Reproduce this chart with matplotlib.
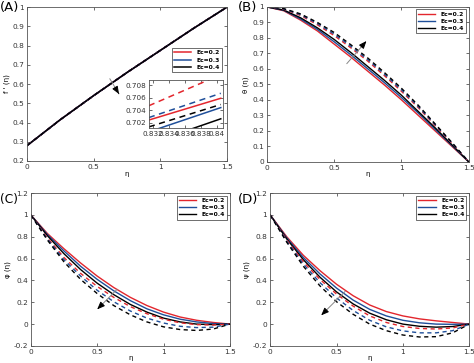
import matplotlib
matplotlib.use('Agg')
import matplotlib.pyplot as plt
import numpy as np

# ---- data ----
labels = ['Ec=0.2', 'Ec=0.3', 'Ec=0.4']
colors = ['#e3262d', '#1f4f9a', '#000000']

eta7 = [0, 0.25, 0.5, 0.75, 1.0, 1.25, 1.5]
fp_main = [0.28, 0.415, 0.54, 0.66, 0.775, 0.89, 1.0]

# inset of (A): two end points per line
inset_x = [0.8315, 0.8405]
inset_solid = [[0.7024, 0.7059], [0.7005, 0.7044], [0.6986, 0.7026]]
inset_dash = [[0.7047, 0.7097], [0.7028, 0.7067], [0.7013, 0.7049]]

eta = [0, 0.125, 0.25, 0.375, 0.5, 0.625, 0.75, 0.875, 1.0, 1.125, 1.25, 1.375, 1.5]

theta_solid = [
    [1, 0.975, 0.915, 0.845, 0.76, 0.675, 0.585, 0.495, 0.40, 0.30, 0.20, 0.10, 0],
    [1, 0.978, 0.922, 0.855, 0.775, 0.69, 0.60, 0.51, 0.415, 0.315, 0.21, 0.105, 0],
    [1, 0.980, 0.930, 0.865, 0.79, 0.705, 0.615, 0.525, 0.43, 0.325, 0.22, 0.11, 0],
]
theta_dash = [
    [1, 0.985, 0.945, 0.885, 0.815, 0.735, 0.65, 0.555, 0.455, 0.35, 0.235, 0.12, 0],
    [1, 0.987, 0.950, 0.893, 0.825, 0.745, 0.66, 0.565, 0.465, 0.357, 0.24, 0.122, 0],
    [1, 0.989, 0.955, 0.900, 0.835, 0.755, 0.67, 0.575, 0.475, 0.365, 0.245, 0.125, 0],
]

phi_solid = [
    [1, 0.83, 0.69, 0.56, 0.44, 0.335, 0.245, 0.17, 0.11, 0.065, 0.035, 0.015, 0],
    [1, 0.82, 0.67, 0.53, 0.41, 0.305, 0.215, 0.14, 0.085, 0.045, 0.02, 0.005, 0],
    [1, 0.81, 0.645, 0.50, 0.375, 0.27, 0.18, 0.11, 0.055, 0.02, 0.0, -0.005, 0],
]
phi_dash = [
    [1, 0.79, 0.61, 0.465, 0.345, 0.245, 0.16, 0.095, 0.045, 0.012, -0.005, -0.008, 0],
    [1, 0.78, 0.59, 0.44, 0.31, 0.205, 0.12, 0.055, 0.01, -0.02, -0.032, -0.028, 0],
    [1, 0.77, 0.57, 0.41, 0.28, 0.17, 0.085, 0.02, -0.025, -0.05, -0.058, -0.045, 0],
]

psi_solid = [
    [1, 0.80, 0.63, 0.49, 0.365, 0.26, 0.175, 0.115, 0.075, 0.048, 0.03, 0.015, 0],
    [1, 0.79, 0.61, 0.46, 0.33, 0.22, 0.135, 0.075, 0.035, 0.012, 0.0, -0.002, 0],
    [1, 0.78, 0.59, 0.43, 0.295, 0.185, 0.10, 0.04, 0.0, -0.02, -0.028, -0.022, 0],
]
psi_dash = [
    [1, 0.77, 0.57, 0.41, 0.275, 0.165, 0.075, 0.015, -0.022, -0.04, -0.045, -0.035, 0],
    [1, 0.76, 0.55, 0.38, 0.24, 0.125, 0.035, -0.025, -0.062, -0.08, -0.08, -0.06, 0],
    [1, 0.75, 0.53, 0.35, 0.205, 0.09, 0.0, -0.06, -0.10, -0.118, -0.115, -0.08, 0],
]

dash = (0, (3, 2.5))
tick_fs = 5.3


def style_axes(ax):
    ax.tick_params(direction='in', length=2, width=0.5, labelsize=tick_fs,
                   top=True, right=True, pad=2, colors='#333333')
    for s in ax.spines.values():
        s.set_color('#555555')
        s.set_linewidth(0.6)


def draw_arrow(ax, start, end):
    ax.annotate('', xy=end, xytext=start,
                arrowprops=dict(arrowstyle='-', color='#888888', lw=0.7))
    ax.annotate('', xy=end, xytext=(start[0] + 0.85 * (end[0] - start[0]),
                                    start[1] + 0.85 * (end[1] - start[1])),
                arrowprops=dict(arrowstyle='-|>,head_length=0.45,head_width=0.18',
                                color='black', lw=0.7))


def add_legend(ax, **kw):
    leg = ax.legend(handles=ax.lines[:3], labels=labels,
                    prop={'size': 4.3, 'weight': 'bold'}, frameon=True,
                    fancybox=False, edgecolor='black', handlelength=2.9,
                    borderpad=0.35, labelspacing=0.35, handletextpad=0.9,
                    borderaxespad=0.3, **kw)
    leg.get_frame().set_linewidth(0.5)


fig = plt.figure(figsize=(4.74, 3.63), dpi=100)

# ---------- (A) ----------
axA = fig.add_axes([0.057, 0.5565, 0.422, 0.424])
for c in colors:
    axA.plot(eta7, fp_main, color=c, lw=1.1)
for c in colors:
    axA.plot(eta7, fp_main, color=c, lw=1.1, linestyle=dash)
axA.set_xlim(0, 1.5)
axA.set_ylim(0.2, 1.0)
axA.set_xticks([0, 0.5, 1, 1.5])
axA.set_xticklabels(['0', '0.5', '1', '1.5'])
axA.set_yticks(np.arange(0.2, 1.01, 0.1))
axA.set_yticklabels(['0.2', '0.3', '0.4', '0.5', '0.6', '0.7', '0.8', '0.9', '1'])
axA.set_xlabel('η', fontsize=5, labelpad=1)
axA.set_ylabel("f ' (η)", fontsize=5, labelpad=2)
style_axes(axA)
add_legend(axA, loc='upper right', bbox_to_anchor=(0.985, 0.745))
draw_arrow(axA, (0.61, 0.64), (0.69, 0.548))

axI = fig.add_axes([0.314, 0.647, 0.156, 0.132])
for ys, c in zip(inset_dash, colors):
    axI.plot(inset_x, ys, color=c, lw=1.1, linestyle=(0, (4, 3)))
for ys, c in zip(inset_solid, colors):
    axI.plot(inset_x, ys, color=c, lw=1.1)
axI.set_xlim(0.8315, 0.84075)
axI.set_ylim(0.7011, 0.7088)
axI.set_xticks([0.832, 0.834, 0.836, 0.838, 0.84])
axI.set_xticklabels(['0.832', '0.834', '0.836', '0.838', '0.84'])
axI.set_yticks([0.702, 0.704, 0.706, 0.708])
axI.set_yticklabels(['0.702', '0.704', '0.706', '0.708'])
style_axes(axI)
axI.tick_params(labelsize=5.2)


def curve_panel(rect, solid, dashed, ylab, ylim, yticks, ytl, arrow, leg_anchor):
    ax = fig.add_axes(rect)
    for ys, c in zip(solid, colors):
        ax.plot(eta, ys, color=c, lw=1.0)
    for ys, c in zip(dashed, colors):
        ax.plot(eta, ys, color=c, lw=1.0, linestyle=dash)
    ax.set_xlim(0, 1.5)
    ax.set_ylim(*ylim)
    ax.set_xticks([0, 0.5, 1, 1.5])
    ax.set_xticklabels(['0', '0.5', '1', '1.5'])
    ax.set_yticks(yticks)
    ax.set_yticklabels(ytl)
    ax.set_xlabel('η', fontsize=5, labelpad=0.5)
    ax.set_ylabel(ylab, fontsize=5, labelpad=2)
    style_axes(ax)
    add_legend(ax, loc='upper right', bbox_to_anchor=leg_anchor)
    draw_arrow(ax, arrow[0], arrow[1])
    return ax


yt_b = np.arange(0, 1.01, 0.1)
ytl_b = ['0', '0.1', '0.2', '0.3', '0.4', '0.5', '0.6', '0.7', '0.8', '0.9', '1']
axB = curve_panel([0.563, 0.554, 0.426, 0.427], theta_solid, theta_dash, 'θ (η)',
                  (0, 1), yt_b, ytl_b, ((0.58, 0.62), (0.74, 0.78)), (0.995, 0.995))

yt_c = np.arange(-0.2, 1.21, 0.2)
ytl_c = ['-0.2', '0', '0.2', '0.4', '0.6', '0.8', '1', '1.2']
axC = curve_panel([0.065, 0.047, 0.420, 0.421], phi_solid, phi_dash, 'φ (η)',
                  (-0.2, 1.2), yt_c, ytl_c, ((0.665, 0.337), (0.50, 0.135)), (0.995, 0.995))
axD = curve_panel([0.570, 0.047, 0.420, 0.421], psi_solid, psi_dash, 'ψ (η)',
                  (-0.2, 1.2), yt_c, ytl_c, ((0.58, 0.318), (0.384, 0.08)), (0.995, 0.995))

fig.text(0.0, 0.997, '(A)', fontsize=9.5, va='top', ha='left')
fig.text(0.502, 0.997, '(B)', fontsize=9.5, va='top', ha='left')
fig.text(0.0, 0.468, '(C)', fontsize=8.8, va='top', ha='left')
fig.text(0.502, 0.468, '(D)', fontsize=9.5, va='top', ha='left')

fig.savefig('out.png', dpi=100)
